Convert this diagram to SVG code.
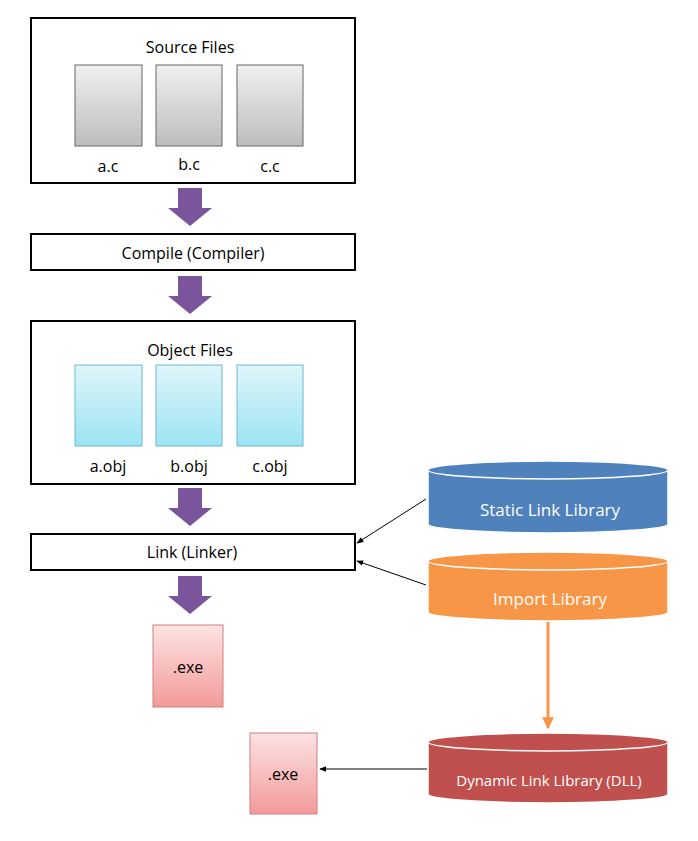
<svg xmlns="http://www.w3.org/2000/svg" width="698" height="841" viewBox="0 0 698 841">
<style>
text{font-family:"Open Sans","Liberation Sans",sans-serif;font-size:16px;text-anchor:middle;fill:#000}
.box{fill:#fff;stroke:#000;stroke-width:2}
.src{fill:url(#gGray);stroke:#666;stroke-width:1}
.obj{fill:url(#gCyan);stroke:#6fb7d0;stroke-width:1}
.exe{fill:url(#gRed);stroke:#d08080;stroke-width:1}
.big{fill:#7a559c}
.wt{fill:#fff;font-size:17px}
</style>
<defs>
<linearGradient id="gGray" x1="0" y1="0" x2="0" y2="1"><stop offset="0" stop-color="#f0f0f0"/><stop offset="1" stop-color="#bdbdbd"/></linearGradient>
<linearGradient id="gCyan" x1="0" y1="0" x2="0" y2="1"><stop offset="0" stop-color="#dff6fb"/><stop offset="1" stop-color="#9ce3f2"/></linearGradient>
<linearGradient id="gRed" x1="0" y1="0" x2="0" y2="1"><stop offset="0" stop-color="#fde3e3"/><stop offset="1" stop-color="#f39a9a"/></linearGradient>
<marker id="ah" viewBox="0 0 10 10" refX="9" refY="5" markerWidth="7" markerHeight="7" orient="auto"><path d="M0,1 L10,5 L0,9 z" fill="#000"/></marker>
<marker id="ahO" viewBox="0 0 10 10" refX="9" refY="5" markerWidth="4" markerHeight="4" orient="auto"><path d="M0,0 L10,5 L0,10 z" fill="#f79646"/></marker>
<path id="fat" d="M-12,0 H12 V20 H22 L0,38 L-22,20 H-12 Z"/>
</defs>
<g id="source">
<rect class="box" x="31" y="18" width="324" height="165"/>
<text x="190" y="53">Source Files</text>
<rect class="src" x="75" y="65" width="67" height="81"/>
<rect class="src" x="156" y="65" width="66" height="81"/>
<rect class="src" x="237" y="65" width="66" height="81"/>
<text x="108" y="172">a.c</text><text x="189" y="170">b.c</text><text x="270" y="172">c.c</text>
</g>
<g id="compile"><rect class="box" x="31" y="234" width="324" height="36"/><text x="193" y="259">Compile (Compiler)</text></g>
<g id="objects">
<rect class="box" x="31" y="321" width="324" height="163"/>
<text x="190" y="356">Object Files</text>
<rect class="obj" x="75" y="365" width="67" height="81"/>
<rect class="obj" x="156" y="365" width="66" height="81"/>
<rect class="obj" x="237" y="365" width="66" height="81"/>
<text x="108" y="472">a.obj</text><text x="189" y="472">b.obj</text><text x="270" y="472">c.obj</text>
</g>
<g id="link"><rect class="box" x="31" y="534" width="324" height="36"/><text x="192" y="558">Link (Linker)</text></g>
<g id="exe1"><rect class="exe" x="153" y="625" width="70" height="82"/><text x="188" y="673">.exe</text></g>
<g id="exe2"><rect class="exe" x="250" y="733" width="67" height="81"/><text x="283" y="780">.exe</text></g>
<g id="static">
<path d="M428,470 V524 A120,9 0 0 0 668,524 V470 Z" fill="#4f81bd" stroke="#fff" stroke-width="1.5"/>
<ellipse cx="548" cy="470" rx="120" ry="9" fill="#4f81bd" stroke="#fff" stroke-width="1.5"/>
<text class="wt" x="550" y="516">Static Link Library</text>
</g>
<g id="import">
<path d="M428,561 V612 A120,9 0 0 0 668,612 V561 Z" fill="#f79646" stroke="#fff" stroke-width="1.5"/>
<ellipse cx="548" cy="561" rx="120" ry="9" fill="#f79646" stroke="#fff" stroke-width="1.5"/>
<text class="wt" x="550" y="605">Import Library</text>
</g>
<g id="dll">
<path d="M428,742 V794 A120,9 0 0 0 668,794 V742 Z" fill="#c0504d" stroke="#fff" stroke-width="1.5"/>
<ellipse cx="548" cy="742" rx="120" ry="9" fill="#c0504d" stroke="#fff" stroke-width="1.5"/>
<text class="wt" x="549" y="786" style="font-size:15px">Dynamic Link Library (DLL)</text>
</g>
<g id="connectors">
<use href="#fat" class="big" x="190" y="188"/>
<use href="#fat" class="big" x="190" y="276"/>
<use href="#fat" class="big" x="190" y="488"/>
<use href="#fat" class="big" x="190" y="576"/>
<line x1="426" y1="499" x2="357" y2="543" stroke="#000" marker-end="url(#ah)"/>
<line x1="426" y1="585" x2="357" y2="561" stroke="#000" marker-end="url(#ah)"/>
<line x1="548" y1="622" x2="548" y2="728" stroke="#f79646" stroke-width="3" marker-end="url(#ahO)"/>
<line x1="427" y1="769" x2="320" y2="769" stroke="#000" marker-end="url(#ah)"/>
</g>
</svg>
